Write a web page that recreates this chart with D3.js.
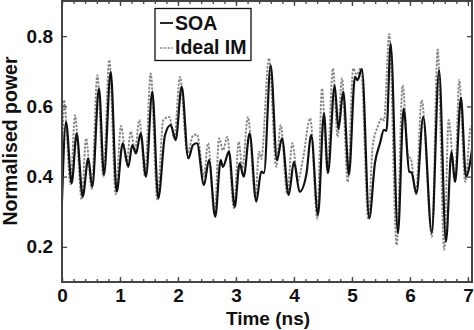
<!DOCTYPE html>
<html>
<head>
<meta charset="utf-8">
<script src="https://cdn.jsdelivr.net/npm/d3@7"></script>
<style>
  html, body { margin: 0; padding: 0; background: #fff; }
  svg { display: block; }
  text { font-family: "Liberation Sans", Arial, sans-serif; font-weight: bold; }
</style>
</head>
<body>
<svg id="chart" width="474" height="330"></svg>
<script>
// ---- Data ----
const soaTime = [0.00,0.069,0.167,0.253,0.357,0.453,0.522,0.638,0.724,0.840,0.943,1.047,1.143,1.212,1.276,1.357,1.448,1.557,1.660,1.776,1.874,1.960,2.064,2.178,2.259,2.328,2.448,2.534,2.643,2.736,2.776,2.879,2.978,3.064,3.133,3.236,3.350,3.436,3.483,3.598,3.707,3.793,3.909,4.000,4.098,4.212,4.298,4.414,4.517,4.586,4.702,4.767,4.850,4.948,5.052,5.095,5.172,5.298,5.397,5.483,5.552,5.595,5.667,5.793,5.891,5.988,6.026,6.112,6.229,6.376,6.502,6.621,6.716,6.779,6.879,6.966,7.086];
const soaPower = [0.33,0.556,0.381,0.523,0.343,0.452,0.371,0.651,0.405,0.698,0.357,0.495,0.428,0.490,0.466,0.523,0.400,0.642,0.338,0.518,0.547,0.504,0.656,0.452,0.490,0.495,0.376,0.447,0.286,0.447,0.428,0.471,0.314,0.438,0.400,0.523,0.329,0.414,0.410,0.717,0.447,0.509,0.348,0.442,0.357,0.405,0.518,0.291,0.580,0.410,0.660,0.535,0.642,0.405,0.684,0.675,0.706,0.281,0.439,0.495,0.533,0.530,0.779,0.239,0.594,0.414,0.412,0.352,0.570,0.241,0.703,0.215,0.471,0.385,0.625,0.400,0.495];

const idealTime = [0.00,0.034,0.147,0.224,0.340,0.414,0.512,0.609,0.712,0.816,0.926,1.017,1.116,1.184,1.259,1.333,1.431,1.529,1.643,1.747,1.850,1.936,2.034,2.160,2.264,2.328,2.448,2.517,2.633,2.707,2.776,2.850,2.966,3.047,3.109,3.207,3.333,3.397,3.436,3.569,3.695,3.771,3.884,3.971,4.069,4.155,4.281,4.402,4.483,4.574,4.672,4.753,4.828,4.926,5.022,5.081,5.155,5.281,5.357,5.443,5.517,5.552,5.643,5.771,5.874,5.966,6.017,6.103,6.202,6.379,6.478,6.591,6.667,6.776,6.850,6.953,7.052,7.103];
const idealPower = [0.36,0.618,0.378,0.575,0.335,0.509,0.365,0.689,0.400,0.732,0.350,0.544,0.442,0.528,0.475,0.561,0.400,0.694,0.335,0.561,0.570,0.509,0.684,0.466,0.518,0.520,0.400,0.495,0.290,0.509,0.475,0.513,0.310,0.499,0.424,0.570,0.340,0.471,0.450,0.737,0.428,0.547,0.350,0.495,0.390,0.450,0.566,0.280,0.651,0.420,0.708,0.513,0.680,0.385,0.708,0.690,0.710,0.280,0.485,0.542,0.566,0.560,0.806,0.205,0.660,0.460,0.450,0.350,0.618,0.229,0.762,0.192,0.561,0.385,0.675,0.385,0.542,0.530];

const xTicks = [0,1,2,3,4,5,6,7];
const yTicks = [0.2,0.4,0.6,0.8];
const seriesNames = ["SOA","Ideal IM"];
const xTitle = "Time (ns)";
const yTitle = "Normalised power";

// ---- Layout ----
const L = 62, R = 472, T = 1, B = 282;
const svg = d3.select("#chart");

const x = d3.scaleLinear().domain([0, 7.07]).range([L, R]);
const y = d3.scaleLinear().domain([0.1, 0.9]).range([B, T]);

svg.append("defs").append("clipPath").attr("id","plotclip")
  .append("rect").attr("x", L).attr("y", T).attr("width", R - L).attr("height", B - T);

const line = d3.line().x(d => x(d[0])).y(d => y(d[1])).curve(d3.curveMonotoneX);

const soa = soaTime.map((t,i) => [t, soaPower[i]]);
const ideal = idealTime.map((t,i) => [t, idealPower[i]]);

const g = svg.append("g").attr("clip-path","url(#plotclip)");
g.append("path").datum(ideal).attr("d", line)
  .attr("fill","none").attr("stroke","#878787").attr("stroke-width",1.9)
  .attr("stroke-dasharray","2.4,1.4");
g.append("path").datum(soa).attr("d", line)
  .attr("fill","none").attr("stroke","#111").attr("stroke-width",2.2);

// ---- Axes ----
const minorX = d3.range(0, 7.01, 0.2).map(v => +v.toFixed(1));
const axColor = "#444";
const fontStack = '"Liberation Sans", Arial, sans-serif';

function styleAxis(sel) {
  sel.select(".domain").remove();
  sel.selectAll(".tick line").attr("stroke", axColor).attr("stroke-width", 1.3);
}

// bottom major
const xb = svg.append("g").attr("transform", `translate(0,${B})`)
  .call(d3.axisBottom(x).tickValues(xTicks).tickSizeInner(-5).tickSizeOuter(0).tickPadding(7).tickFormat(d3.format("d")));
styleAxis(xb);
xb.selectAll(".tick text").attr("font-size", 19).attr("fill","#111").attr("font-family",fontStack).attr("font-weight","bold");
// bottom minor
const xbm = svg.append("g").attr("transform", `translate(0,${B})`)
  .call(d3.axisBottom(x).tickValues(minorX).tickSizeInner(-3).tickSizeOuter(0).tickFormat(""));
styleAxis(xbm);
// top major + minor
const xt = svg.append("g").attr("transform", `translate(0,${T})`)
  .call(d3.axisTop(x).tickValues(xTicks).tickSizeInner(-5).tickSizeOuter(0).tickFormat(""));
styleAxis(xt);
const xtm = svg.append("g").attr("transform", `translate(0,${T})`)
  .call(d3.axisTop(x).tickValues(minorX).tickSizeInner(-3).tickSizeOuter(0).tickFormat(""));
styleAxis(xtm);
// left
const yl = svg.append("g").attr("transform", `translate(${L},0)`)
  .call(d3.axisLeft(y).tickValues(yTicks).tickSizeInner(-5).tickSizeOuter(0).tickPadding(9).tickFormat(d3.format(".1f")));
styleAxis(yl);
yl.selectAll(".tick text").attr("font-size", 19).attr("fill","#111").attr("font-family",fontStack).attr("font-weight","bold");
// right
const yr = svg.append("g").attr("transform", `translate(${R},0)`)
  .call(d3.axisRight(y).tickValues(yTicks).tickSizeInner(-5).tickSizeOuter(0).tickFormat(""));
styleAxis(yr);

// frame
svg.append("rect").attr("x", L).attr("y", T).attr("width", R - L).attr("height", B - T)
  .attr("fill","none").attr("stroke", axColor).attr("stroke-width", 2);

// titles
svg.append("text").attr("x", 268).attr("y", 325).attr("text-anchor","middle")
  .attr("font-size", 19).attr("fill","#111").text(xTitle);
svg.append("text").attr("transform","translate(17,141) rotate(-90)").attr("text-anchor","middle")
  .attr("font-size", 19.5).attr("fill","#111").text(yTitle);

// legend
const lg = svg.append("g");
lg.append("rect").attr("x", 155).attr("y", 8.5).attr("width", 96).attr("height", 52)
  .attr("fill","#fff").attr("stroke","#111").attr("stroke-width",1.3);
lg.append("line").attr("x1",160).attr("x2",173).attr("y1",23).attr("y2",23)
  .attr("stroke","#111").attr("stroke-width",1.8);
lg.append("line").attr("x1",160).attr("x2",173).attr("y1",48).attr("y2",48)
  .attr("stroke","#878787").attr("stroke-width",1.6).attr("stroke-dasharray","2.4,1.4");
lg.append("text").attr("x",175).attr("y",29.5).attr("font-size",19.5).attr("fill","#111").text(seriesNames[0]);
lg.append("text").attr("x",175).attr("y",54).attr("font-size",19.5).attr("fill","#111").text(seriesNames[1]);
</script>
</body>
</html>
